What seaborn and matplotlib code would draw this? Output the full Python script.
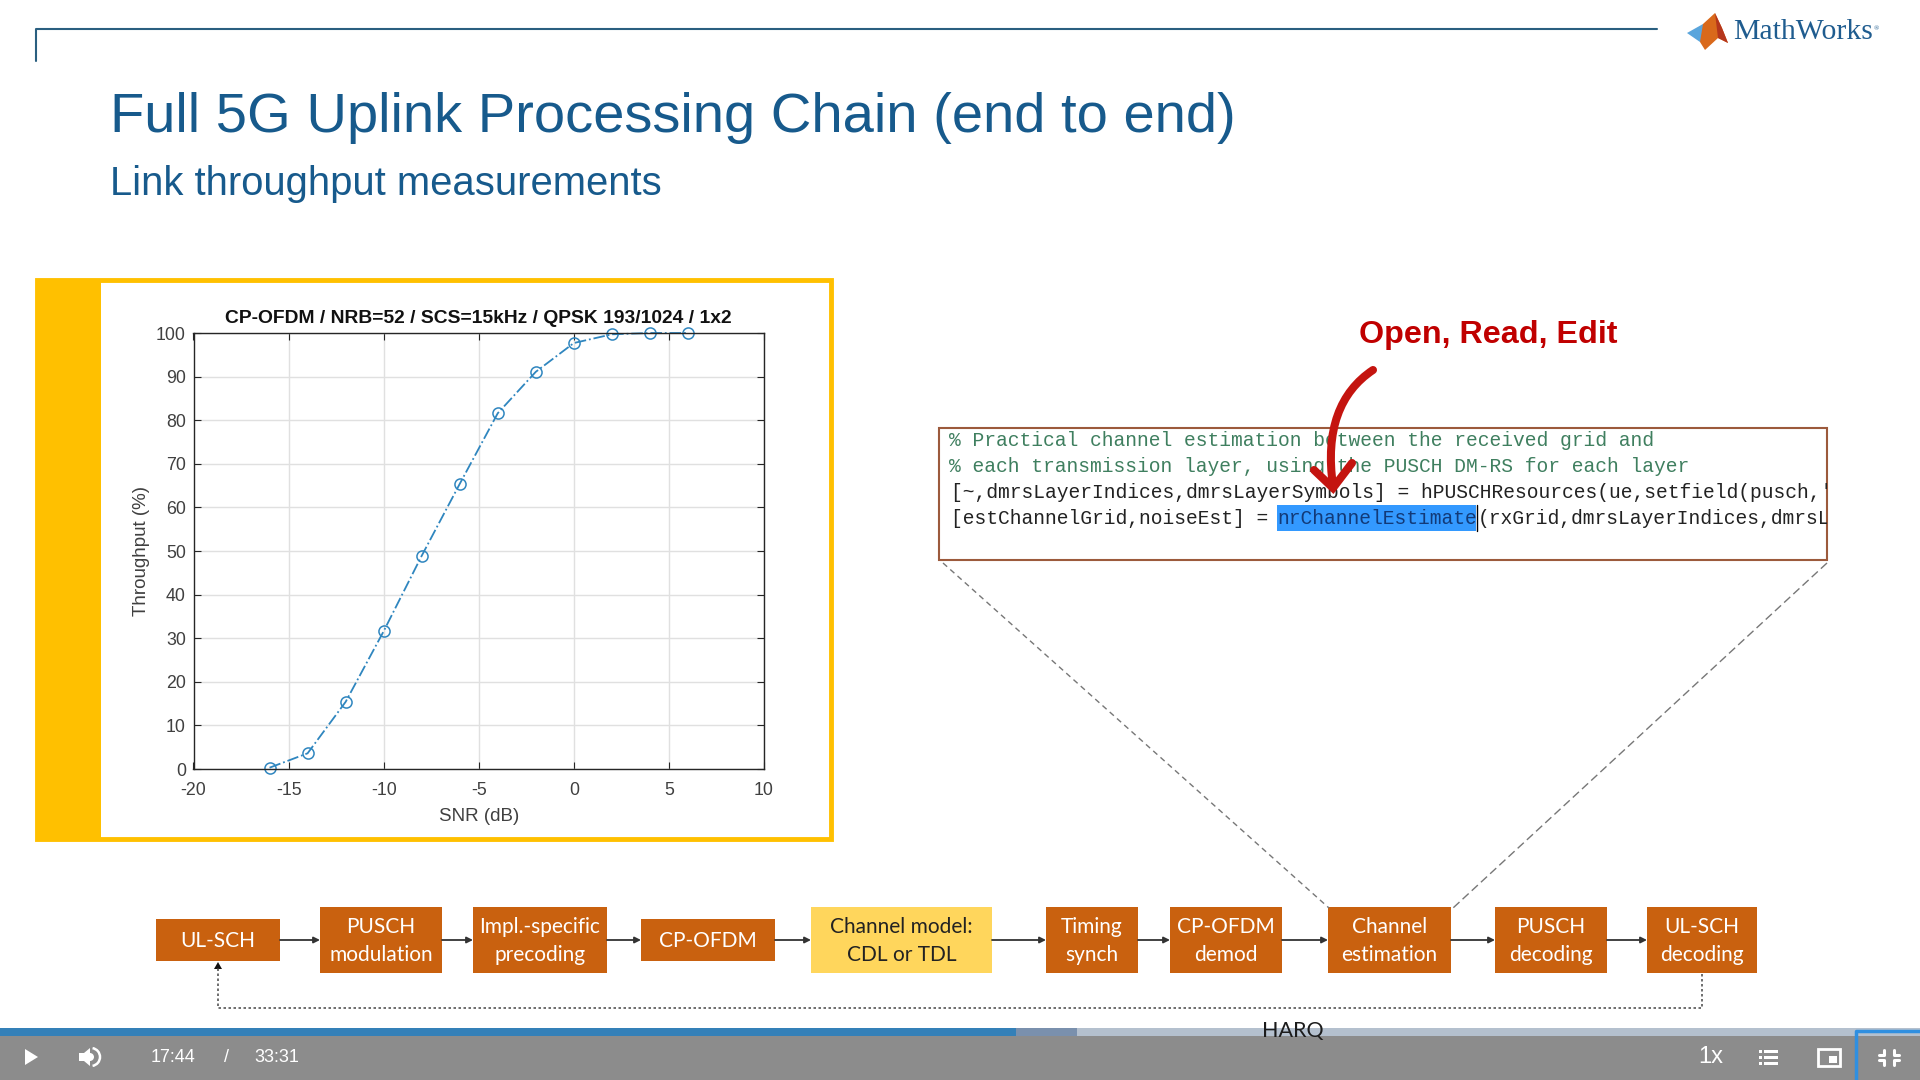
#!/usr/bin/env python3
# Slide from a video player: throughput curve, code snippet, processing chain

import matplotlib
matplotlib.use("Agg")
import matplotlib.pyplot as plt
import pandas as pd
import seaborn as sns
from matplotlib.patches import Arc, Circle, PathPatch, Polygon, Rectangle
from matplotlib.path import Path
from matplotlib.transforms import Bbox

snr_db = [-16, -14, -12, -10, -8, -6, -4, -2, 0, 2, 4, 6]
throughput = [0.3, 3.6, 15.4, 31.6, 48.9, 65.4, 81.6, 91.1, 97.7, 99.7, 100, 100]
x_ticks = [-20, -15, -10, -5, 0, 5, 10]
y_ticks = [0, 10, 20, 30, 40, 50, 60, 70, 80, 90, 100]

slide_title = "Full 5G Uplink Processing Chain (end to end)"
slide_subtitle = "Link throughput measurements"
chart_title = "CP-OFDM / NRB=52 / SCS=15kHz / QPSK 193/1024 / 1x2"

code_comments = [
    "% Practical channel estimation between the received grid and",
    "% each transmission layer, using the PUSCH DM-RS for each layer",
]
code_lines = [
    "[~,dmrsLayerIndices,dmrsLayerSymbols] = hPUSCHResources(ue,setfield(pusch,'",
    "[estChannelGrid,noiseEst] = ",
]
code_call = "nrChannelEstimate"
code_rest = "(rxGrid,dmrsLayerIndices,dmrsL"

chain_labels = ["UL-SCH", "PUSCH\nmodulation", "Impl.-specific\nprecoding", "CP-OFDM",
                "Channel model:\nCDL or TDL", "Timing\nsynch", "CP-OFDM\ndemod",
                "Channel\nestimation", "PUSCH\ndecoding", "UL-SCH\ndecoding"]

# box edges in slide pixels
chain_left = [156, 320, 473, 641, 811, 1046, 1170, 1328, 1495, 1647]
chain_right = [280, 442, 607, 775, 992, 1138, 1282, 1451, 1607, 1757]
chain_tall = [False, True, True, False, True, True, True, True, True, True]

ORANGE = "#c9610f"
YELLOW = "#ffd65c"
GOLD = "#ffc000"
NAVY = "#175a8c"
GREEN = "#3f7f5f"

sns.set_theme(style="whitegrid")
plt.rcParams["font.family"] = ["Liberation Sans", "DejaVu Sans"]
plt.rcParams["axes.unicode_minus"] = False

fig = plt.figure(figsize=(19.2, 10.8), dpi=100, facecolor="white")

# one axes in pixel coordinates for everything around the chart
bg = fig.add_axes([0, 0, 1, 1])
bg.set_xlim(0, 1920)
bg.set_ylim(1080, 0)
bg.axis("off")

# header
bg.plot([36, 36, 1657], [61, 29, 29], color="#2a5f80", lw=1.5)
bg.text(110, 118, slide_title, fontsize=40.4, color=NAVY, va="center")
bg.text(110, 184, slide_subtitle, fontsize=28.8, color=NAVY, va="center")

# logo
bg.add_patch(Polygon([(1687, 33), (1703, 24), (1708, 40), (1700, 42)], color="#5aa5dc", lw=0))
bg.add_patch(Polygon([(1703, 24), (1715, 13), (1722, 28), (1728, 43), (1718, 38), (1705, 50), (1700, 42)],
                     color="#d9691b", lw=0))
bg.add_patch(Polygon([(1715, 13), (1722, 28), (1728, 43), (1718, 38)], color="#b5361c", lw=0))
bg.text(1733, 32, "MathWorks", fontsize=21.4, family="Liberation Serif", color="#1f5c8f", va="center")
bg.text(1874, 29, "\u00ae", fontsize=5, family="Liberation Serif", color="#1f5c8f", va="center")

# yellow frame of the chart
bg.add_patch(Rectangle((37, 280), 794, 559, fc="white", ec=GOLD, lw=3.5))
bg.add_patch(Rectangle((36, 279), 65, 561, fc=GOLD, ec="none"))

# zoom lines go under the code box
bg.plot([943, 1329], [563, 908], color="#777777", lw=1, ls=(0, (4, 3)))
bg.plot([1827, 1453], [563, 908], color="#777777", lw=1, ls=(0, (6, 3)))

# code box
bg.add_patch(Rectangle((939, 428), 888, 132, fc="white", ec="#9c5a3c", lw=1.5))
code_clip = Bbox([[939, 1080 - 560], [1827, 1080 - 428]])
code_style = dict(fontsize=14.1, family="Liberation Mono", va="center", ha="left")
bg.add_patch(Rectangle((1277, 505), 199, 26, fc="#3399ff", ec="none"))
bg.plot([1477, 1477], [505, 531], color="black", lw=1)
for y, line in zip([441, 467], code_comments):
    bg.text(949, y, line, color=GREEN, **code_style)
line3 = bg.text(951, 493, code_lines[0], color="#222222", **code_style)
bg.text(951, 519, code_lines[1], color="#222222", **code_style)
bg.text(1277, 519, code_call, color="#123a78", **code_style)
line4 = bg.text(1478, 519, code_rest, color="#222222", **code_style)
for t in [line3, line4]:
    t.set_clip_on(True)
    t.set_clip_box(code_clip)

# red callout
bg.text(1488, 335, "Open, Read, Edit", fontsize=23.2, fontweight="bold", color="#c00000",
        ha="center", va="center")
shaft = Path([(1373, 370), (1340, 392), (1325, 430), (1333, 486)],
             [Path.MOVETO, Path.CURVE4, Path.CURVE4, Path.CURVE4])
bg.add_patch(PathPatch(shaft, fc="none", ec="#c4140f", lw=5.8, capstyle="round", zorder=5))
bg.plot([1314, 1333, 1352], [470, 488, 463], color="#c4140f", lw=5.8, solid_capstyle="round",
        solid_joinstyle="miter", zorder=5)

# processing chain
chain_mid = 940
for i, label in enumerate(chain_labels):
    half = 33 if chain_tall[i] else 21
    color = YELLOW if "Channel model" in label else ORANGE
    text_color = "#222222" if "Channel model" in label else "white"
    bg.add_patch(Rectangle((chain_left[i], chain_mid - half), chain_right[i] - chain_left[i], 2 * half,
                           fc=color, ec="none"))
    bg.text((chain_left[i] + chain_right[i]) / 2, chain_mid + 1, label, fontsize=15, family="Lato",
            color=text_color, ha="center", va="center", linespacing=1.5)
    if i < len(chain_labels) - 1:
        bg.annotate("", xy=(chain_left[i + 1], chain_mid), xytext=(chain_right[i], chain_mid),
                    arrowprops=dict(arrowstyle="-|>", color="#333333", lw=1.3, shrinkA=0, shrinkB=0,
                                    mutation_scale=9))

# HARQ feedback
bg.plot([1702, 1702, 218, 218], [974, 1008, 1008, 968], color="#555555", lw=1.2, ls=(0, (1.5, 1.5)))
bg.add_patch(Polygon([(218, 962), (214, 969), (222, 969)], color="#111111", lw=0))

# player bar
bg.add_patch(Rectangle((0, 1036), 1920, 44, fc="#8c8c8c", ec="none"))
bg.add_patch(Rectangle((0, 1028), 1920, 8, fc="#b4c0ce", ec="none"))
bg.add_patch(Rectangle((1016, 1028), 61, 8, fc="#7a90ad", ec="none"))
bg.add_patch(Rectangle((0, 1028), 1016, 8, fc="#3480b8", ec="none"))
bg.text(1293, 1031, "HARQ", fontsize=15.5, family="Lato", color="#1c1c1c", ha="center", va="center")

for x, s in [(173, "17:44"), (226, "/"), (277, "33:31")]:
    bg.text(x, 1057, s, fontsize=13, color="white", ha="center", va="center")
bg.text(1711, 1057, "1x", fontsize=17, color="white", ha="center", va="center")

bg.add_patch(Polygon([(25, 1049), (25, 1065), (38, 1057)], color="white", lw=0))
bg.add_patch(Polygon([(79, 1053), (84, 1053), (90, 1048), (90, 1066), (84, 1061), (79, 1061)], color="white", lw=0))
bg.add_patch(Circle((90, 1057), 4, fc="white", ec="none"))
bg.add_patch(Arc((91, 1057), 18, 18, theta1=-80, theta2=80, ec="white", lw=1.8))
for y in [1051, 1057, 1063]:
    bg.add_patch(Rectangle((1759, y - 1.5), 3, 3, fc="white", ec="none"))
    bg.add_patch(Rectangle((1764, y - 1.5), 14, 3, fc="white", ec="none"))
bg.add_patch(Rectangle((1818, 1049), 22, 17, fc="none", ec="white", lw=2))
bg.add_patch(Rectangle((1829, 1056), 8, 7, fc="white", ec="none"))
for xs, ys in [([1884, 1884, 1879], [1050, 1055, 1055]), ([1894, 1894, 1899], [1050, 1055, 1055]),
               ([1884, 1884, 1879], [1065, 1060, 1060]), ([1894, 1894, 1899], [1065, 1060, 1060])]:
    bg.plot(xs, ys, color="white", lw=2.2)
bg.plot([1856, 1856, 1920], [1080, 1031, 1031], color="#2f8fe0", lw=2.5)

# the chart itself
ax = fig.add_axes([193.5 / 1920, 1 - 769 / 1080, 570.5 / 1920, 436 / 1080], zorder=3)
df = pd.DataFrame({"snr": snr_db, "throughput": throughput})
sns.lineplot(df, x="snr", y="throughput", ax=ax, color="#2f86bf", lw=1.3, linestyle="-.",
             marker="o", markersize=8, markerfacecolor="none", markeredgecolor="#2f86bf",
             markeredgewidth=1.1, clip_on=False, errorbar=None)
ax.set_xlim(-20, 10)
ax.set_ylim(0, 100)
ax.set_xticks(x_ticks)
ax.set_yticks(y_ticks)
ax.grid(True, color="#e0e0e0", lw=1)
ax.tick_params(direction="in", length=5, width=0.8, color="#262626", labelcolor="#404040",
               labelsize=12.8, top=True, right=True, bottom=True, left=True)
ax.tick_params(axis="x", pad=9.5)
ax.tick_params(axis="y", pad=5.5)
ax.set_facecolor("white")
for spine in ax.spines.values():
    spine.set_color("#262626")
    spine.set_linewidth(1)
ax.set_xlabel("SNR (dB)", fontsize=13.5, color="#404040", labelpad=6)
ax.set_ylabel("Throughput (%)", fontsize=13.5, color="#404040", labelpad=4)
ax.set_title(chart_title, fontsize=13.9, fontweight="bold", color="#111111", pad=7)

fig.savefig("out.png", dpi=100)
